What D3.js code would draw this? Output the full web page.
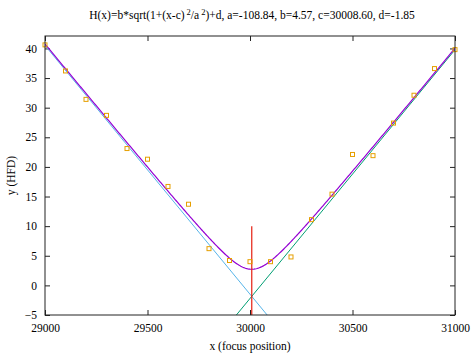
<!DOCTYPE html>
<html>
<head>
<meta charset="utf-8">
<script src="https://cdn.jsdelivr.net/npm/d3@7"></script>
<style>
  body { margin: 0; background: #fff; }
  svg { display: block; font-family: "Liberation Serif", "DejaVu Serif", serif; }
  .axis path { display: none; }
  .axis line { stroke: #222; }
</style>
</head>
<body>
<svg id="chart"></svg>
<script>
// fit parameters (from the title)
const fitA = -108.84;
const fitB = 4.57;
const fitC = 30008.60;
const fitD = -1.85;

// measured points
const focusPos = [29000, 29100, 29200, 29300, 29400, 29500, 29600, 29700, 29800, 29900, 30000,
                  30100, 30200, 30300, 30400, 30500, 30600, 30700, 30800, 30900, 31000];
const hfdValues = [40.6, 36.2, 31.4, 28.7, 23.1, 21.3, 16.7, 13.7, 6.2, 4.2, 4.0,
                   4.0, 4.8, 11.1, 15.4, 22.1, 21.9, 27.4, 32.1, 36.6, 39.8];

const xTicks = [29000, 29500, 30000, 30500, 31000];
const yTicks = [-5, 0, 5, 10, 15, 20, 25, 30, 35, 40];
const yDomain = [-5, 42.1];
const markerY = [-5, 10];

class FocusPlot {
    constructor(_config) {
        this.config = {
            parentElement: _config.parentElement,
            containerWidth: _config.containerWidth || 474,
            containerHeight: _config.containerHeight || 355,
            margin: {top: 36, right: 19, bottom: 40, left: 45}
        };
        this.initVis();
    }

    initVis() {
        let vis = this;
        vis.width = vis.config.containerWidth - vis.config.margin.left - vis.config.margin.right;
        vis.height = vis.config.containerHeight - vis.config.margin.top - vis.config.margin.bottom;

        vis.svg = d3.select(vis.config.parentElement)
            .attr('width', vis.config.containerWidth)
            .attr('height', vis.config.containerHeight);

        vis.svg.append('defs').append('clipPath').attr('id', 'clip')
            .append('rect').attr('width', vis.width).attr('height', vis.height);

        vis.chart = vis.svg.append('g')
            .attr('transform', `translate(${vis.config.margin.left}, ${vis.config.margin.top})`);

        vis.xScale = d3.scaleLinear().domain([29000, 31000]).range([0, vis.width]);
        vis.yScale = d3.scaleLinear().domain(yDomain).range([vis.height, 0]);

        vis.updateVis();
    }

    updateVis() {
        let vis = this;
        const x = vis.xScale, y = vis.yScale;

        // axes, ticks pointing inward, mirrored on top/right
        vis.chart.append('g').attr('class', 'axis')
            .attr('transform', `translate(0,${vis.height})`)
            .call(d3.axisBottom(x).tickValues(xTicks).tickFormat(d3.format('d')).tickSize(-5).tickPadding(9));
        vis.chart.append('g').attr('class', 'axis')
            .call(d3.axisTop(x).tickValues(xTicks).tickFormat('').tickSize(-5));
        vis.chart.append('g').attr('class', 'axis')
            .call(d3.axisLeft(y).tickValues(yTicks).tickSize(-5).tickPadding(8));
        vis.chart.append('g').attr('class', 'axis')
            .attr('transform', `translate(${vis.width},0)`)
            .call(d3.axisRight(y).tickValues(yTicks).tickFormat('').tickSize(-5));

        vis.chart.selectAll('.axis')
            .attr('font-family', '"Liberation Serif", serif')
            .attr('font-size', 11.5);
        vis.chart.selectAll('.axis text').attr('fill', '#000');

        const plot = vis.chart.append('g').attr('clip-path', 'url(#clip)');
        const line = d3.line().x(d => x(d[0])).y(d => y(d[1]));
        const slope = fitB / Math.abs(fitA);
        const xs = [29000, 31000];

        // asymptotes
        plot.append('path')
            .attr('d', line(xs.map(v => [v, -slope * (v - fitC) + fitD])))
            .attr('fill', 'none').attr('stroke', '#56b4e9').attr('stroke-width', 1);
        plot.append('path')
            .attr('d', line(xs.map(v => [v, slope * (v - fitC) + fitD])))
            .attr('fill', 'none').attr('stroke', '#009e73').attr('stroke-width', 1);

        // fitted hyperbola
        const curve = d3.range(29000, 31001, 5)
            .map(v => [v, fitB * Math.sqrt(1 + (v - fitC) ** 2 / fitA ** 2) + fitD]);
        plot.append('path')
            .attr('d', line(curve))
            .attr('fill', 'none').attr('stroke', '#9400d3').attr('stroke-width', 1.2);

        // focus marker
        plot.append('path')
            .attr('d', line(markerY.map(v => [fitC, v])))
            .attr('stroke', '#e51e10').attr('stroke-width', 1.2);

        // data points
        vis.chart.selectAll('rect.pt')
            .data(focusPos.map((v, i) => [v, hfdValues[i]]))
          .join('rect')
            .attr('class', 'pt')
            .attr('x', d => x(d[0]) - 2)
            .attr('y', d => y(d[1]) - 2)
            .attr('width', 4).attr('height', 4)
            .attr('fill', 'none').attr('stroke', '#e69f00').attr('stroke-width', 1);

        // border
        vis.chart.append('rect')
            .attr('width', vis.width).attr('height', vis.height)
            .attr('fill', 'none').attr('stroke', '#222').attr('stroke-width', 1);

        // labels
        const title = vis.svg.append('text')
            .attr('x', vis.config.margin.left + vis.width / 2 + 2)
            .attr('y', 19)
            .attr('text-anchor', 'middle')
            .attr('font-size', 11.5);
        title.append('tspan').text('H(x)=b*sqrt(1+(x-c)');
        title.append('tspan').attr('dx', 2).attr('dy', -4).attr('font-size', 8.5).text('2');
        title.append('tspan').attr('dy', 4).text('/a');
        title.append('tspan').attr('dx', 2).attr('dy', -4).attr('font-size', 8.5).text('2');
        title.append('tspan').attr('dy', 4)
            .text(`)+d, a=${fitA.toFixed(2)}, b=${fitB.toFixed(2)}, c=${fitC.toFixed(2)}, d=${fitD.toFixed(2)}`);

        vis.svg.append('text')
            .attr('x', vis.config.margin.left + vis.width / 2)
            .attr('y', 350)
            .attr('text-anchor', 'middle')
            .attr('font-size', 11.5)
            .text('x (focus position)');

        vis.svg.append('text')
            .attr('transform', `translate(15, ${vis.config.margin.top + vis.height / 2}) rotate(-90)`)
            .attr('text-anchor', 'middle')
            .attr('font-size', 11.5)
            .text('y (HFD)');
    }
}

new FocusPlot({parentElement: '#chart'});
</script>
</body>
</html>
